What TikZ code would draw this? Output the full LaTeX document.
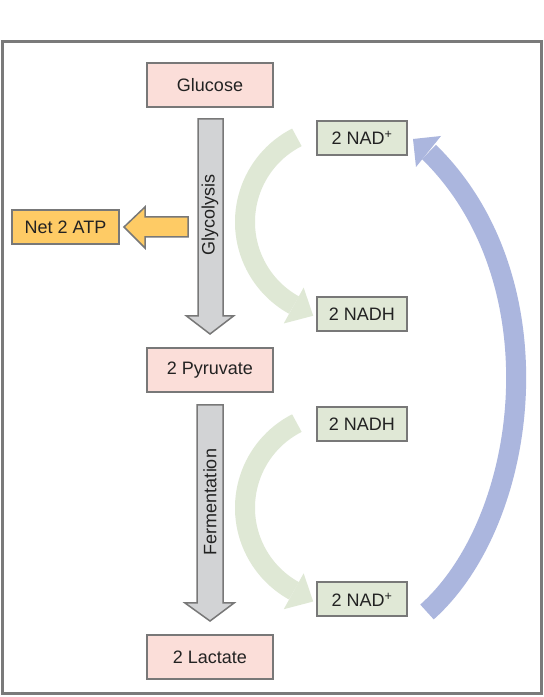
\documentclass[tikz,border=0pt]{standalone}
\usepackage{fontspec}
\setmainfont{Liberation Sans}
\usetikzlibrary{calc}
\definecolor{framegray}{HTML}{7A7A7A}
\definecolor{boxborder}{HTML}{787878}
\definecolor{pinkfill}{HTML}{FBDED9}
\definecolor{greenfill}{HTML}{E0E8D6}
\definecolor{arcgreen}{HTML}{DFE8D5}
\definecolor{orangefill}{HTML}{FECB65}
\definecolor{grayfill}{HTML}{D2D3D5}
\definecolor{arcblue}{HTML}{ABB6DE}
\definecolor{txt}{HTML}{222222}
\tikzset{
  basebox/.style={draw=boxborder, line width=2pt, inner sep=0pt, text=txt},
  pinkbox/.style={basebox, fill=pinkfill, minimum width=126pt, minimum height=44pt},
  greenbox/.style={basebox, fill=greenfill, minimum width=90pt, minimum height=34pt},
  atpbox/.style={basebox, fill=orangefill, minimum width=107pt, minimum height=34pt},
  grayarrow/.style={draw=boxborder, line width=1.5pt, fill=grayfill, line join=miter},
  yellowarrow/.style={draw=boxborder, line width=1.5pt, fill=orangefill, line join=miter},
  greenarc/.style={draw=arcgreen, line width=20pt},
  greenhead/.style={fill=arcgreen},
  bluearc/.style={draw=arcblue, line width=20pt},
  bluehead/.style={fill=arcblue},
  steplabel/.style={rotate=90, text=txt, inner sep=0pt}
}
\begin{document}
\begin{tikzpicture}[x=1pt,y=1pt,font=\fontsize{18}{21}\selectfont]
\useasboundingbox (0,0) rectangle (544,697);
\fill[white] (0,0) rectangle (544,697);
\draw[framegray, line width=3pt] (2,3) rectangle (541,655);

% boxes
\node[pinkbox] (glucose) at (210,612) {Glucose};
\node[pinkbox] (pyruvate) at (210,327) {2 Pyruvate};
\node[pinkbox] (lactate) at (210,40) {2 Lactate};
\node[atpbox] (atp) at (65.5,470) {Net 2 ATP};
\node[greenbox] (nad1) at (362,559) {2 NAD\textsuperscript{+}};
\node[greenbox] (nadh1) at (362,383) {2 NADH};
\node[greenbox] (nadh2) at (362,273) {2 NADH};
\node[greenbox] (nad2) at (362,97.5) {2 NAD\textsuperscript{+}};

% glycolysis arrow
\coordinate (g1) at ($(glucose.south)+(0,-11)$);
\coordinate (g2) at ($(pyruvate.north)+(0,13)$);
\draw[grayarrow] ($(g1)+(-12,0)$) -- ($(g1)+(13,0)$) -- ($(g2)+(13,18)$) -- ($(g2)+(23.5,18)$)
  -- (g2) -- ($(g2)+(-23.5,18)$) -- ($(g2)+(-12,18)$) -- cycle;
\node[steplabel] (glylab) at (210,482) {Glycolysis};

% fermentation arrow
\coordinate (f1) at ($(pyruvate.south)+(0,-12)$);
\coordinate (f2) at ($(lactate.north)+(0,13)$);
\draw[grayarrow] ($(f1)+(-13,0)$) -- ($(f1)+(13,0)$) -- ($(f2)+(13,18)$) -- ($(f2)+(24,18)$)
  -- (f2) -- ($(f2)+(-25,18)$) -- ($(f2)+(-13,18)$) -- cycle;
\node[steplabel] (fermlab) at (210,195) {Fermentation};

% ATP arrow
\coordinate (atptip) at ($(atp.east)+(4,0)$);
\draw[yellowarrow] (atptip) -- ($(atptip)+(21,20)$) -- ($(atptip)+(21,10)$) -- ($(atptip)+(64,10)$)
  -- ($(atptip)+(64,-10)$) -- ($(atptip)+(21,-10)$) -- ($(atptip)+(21,-21)$) -- cycle;

% green arc 1 (NAD+ -> NADH)
\coordinate (c1) at ($(nad1)!0.5!(nadh1)+(-22,4)$);
\draw[greenarc] ($(c1)+(117:95)$) arc[start angle=117, end angle=241, radius=95];
\fill[greenhead] ($(c1)+(241:75)$) -- ($(c1)+(241:116)$) -- ($(c1)+(241:95)+(331:22)$) -- cycle;

% green arc 2 (NADH -> NAD+)
\coordinate (c2) at ($(nadh2)!0.5!(nad2)+(-22,4)$);
\draw[greenarc] ($(c2)+(117:95)$) arc[start angle=117, end angle=241, radius=95];
\fill[greenhead] ($(c2)+(241:75)$) -- ($(c2)+(241:116)$) -- ($(c2)+(241:95)+(331:22)$) -- cycle;

% blue arc (NAD+ regenerated -> NAD+)
\coordinate (b1) at ($(nad2.east)+(19,-12.5)$);
\coordinate (b2) at ($(nad1.east)+(21,-14)$);
\draw[bluearc] (b1) .. controls (530,177) and (560,417) .. (b2);
\fill[bluehead] ($(nad1.east)+(33,2)$) -- ($(nad1.east)+(5,-1)$) -- ($(nad1.east)+(8,-29)$) -- cycle;
\end{tikzpicture}
\end{document}
